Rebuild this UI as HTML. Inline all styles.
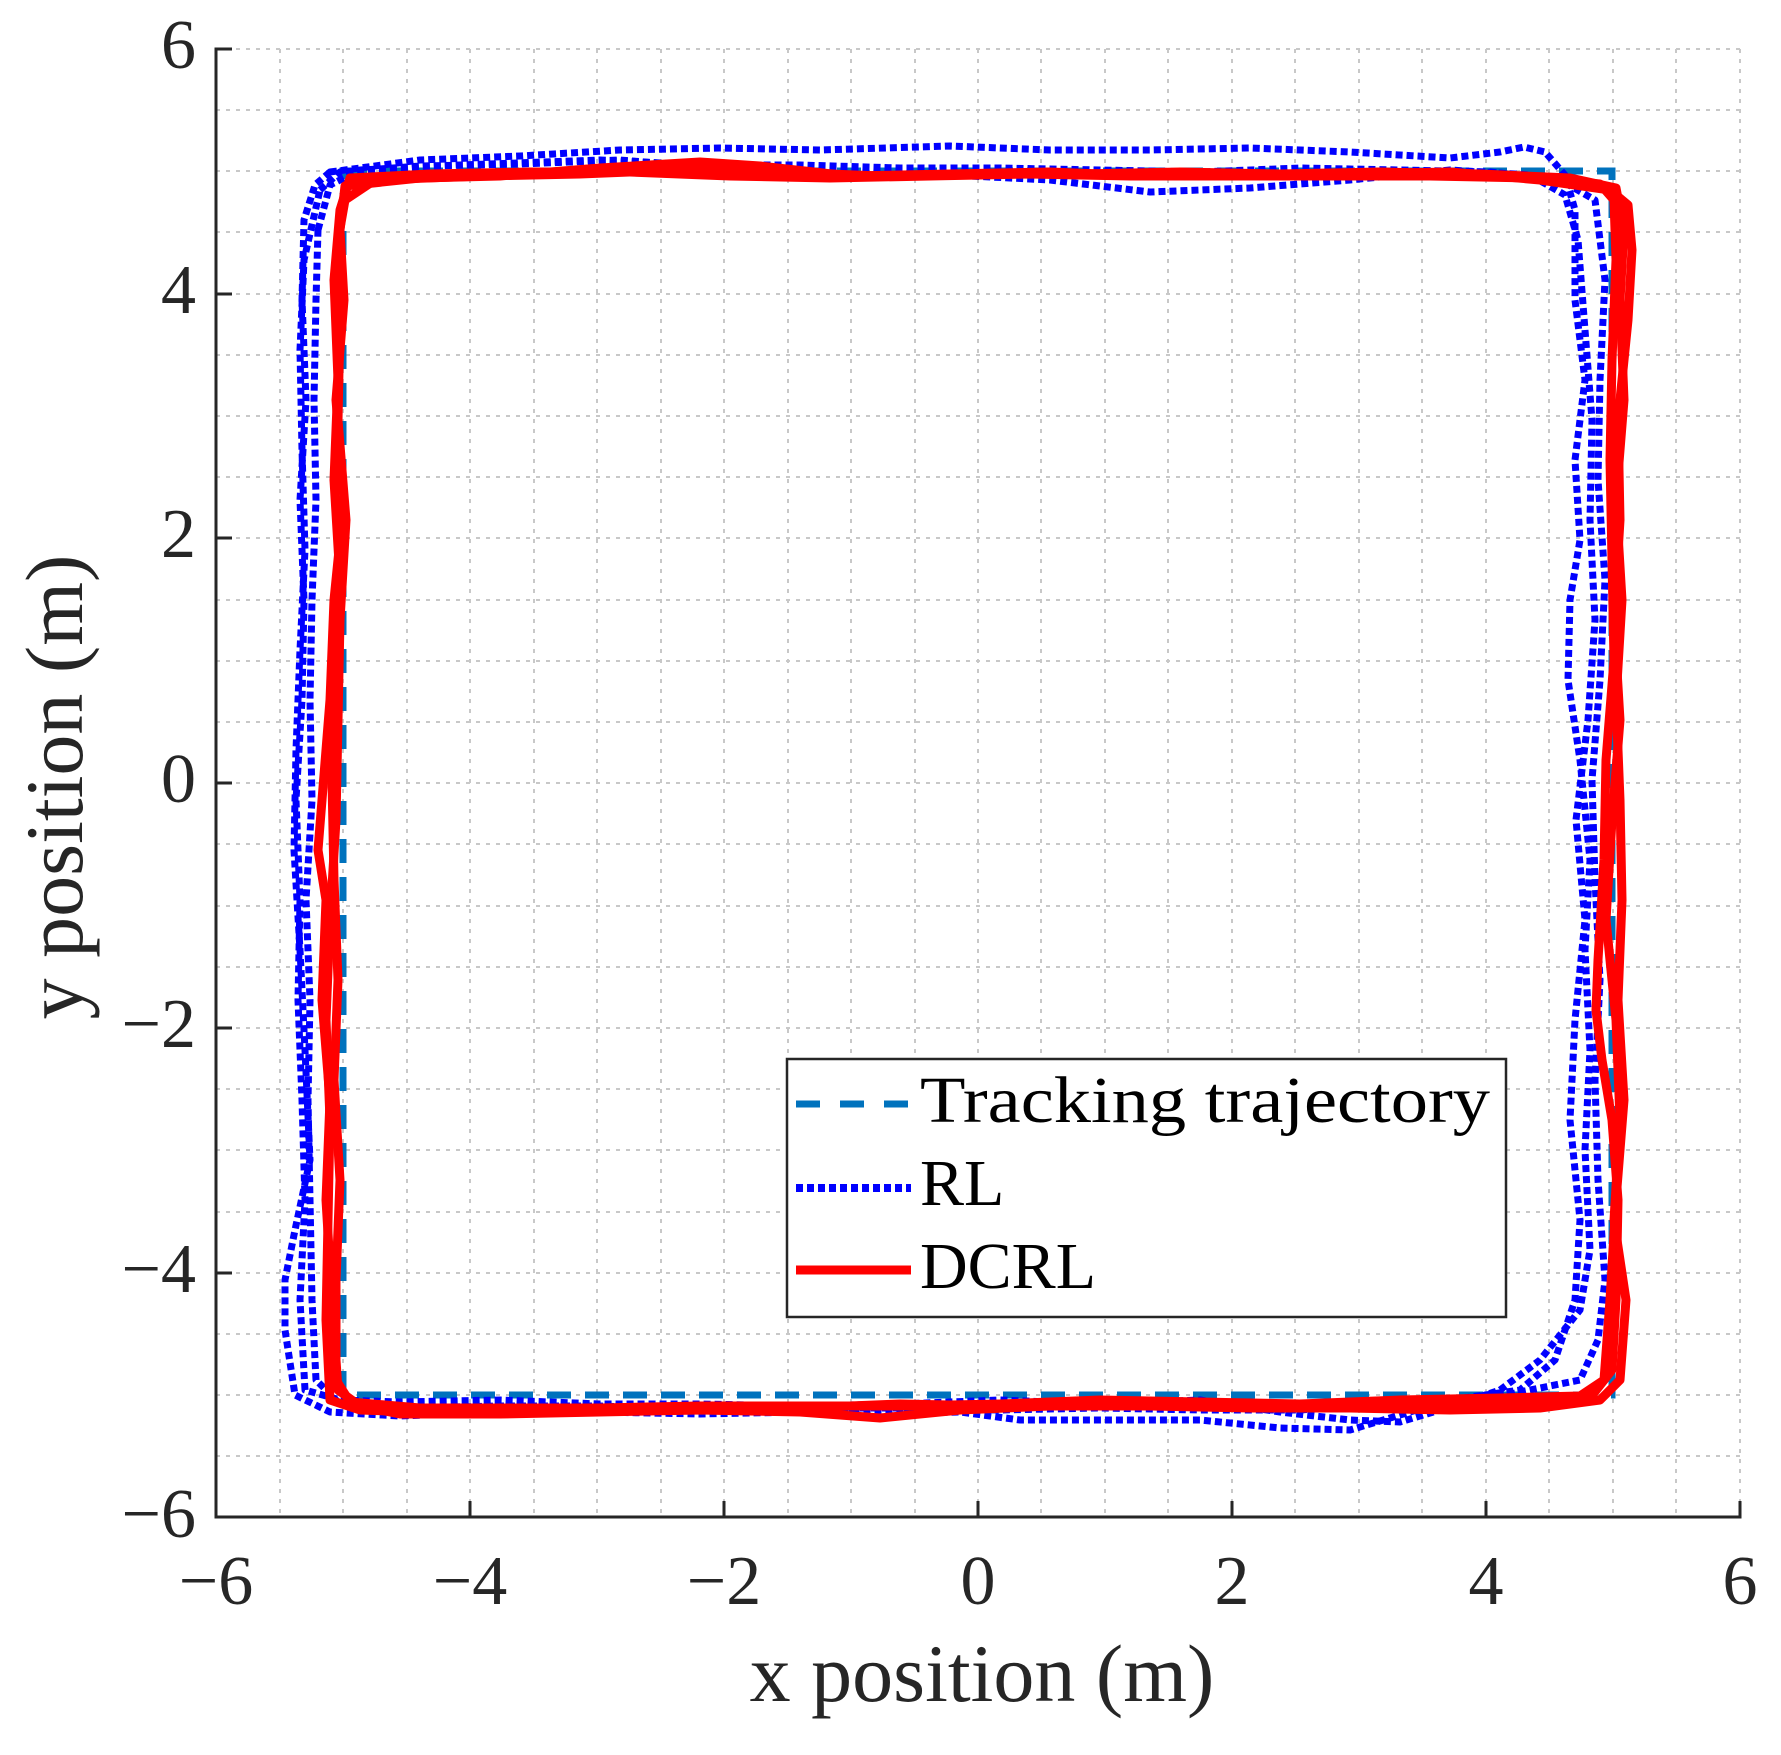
<!DOCTYPE html>
<html><head><meta charset="utf-8"><style>
html,body{margin:0;padding:0;background:#fff}
svg{display:block}
text{font-family:"Liberation Serif",serif;fill:#262626}
</style></head><body>
<svg width="1781" height="1755" viewBox="0 0 1781 1755" xmlns="http://www.w3.org/2000/svg">
<rect width="1781" height="1755" fill="#fff"/>
<g stroke="#c8c8c8" stroke-width="2" stroke-dasharray="4 6">
<path d="M280 49V1517M343 49V1517M407 49V1517M470 49V1517M534 49V1517M597 49V1517M661 49V1517M724 49V1517M788 49V1517M851 49V1517M915 49V1517M978 49V1517M1041 49V1517M1105 49V1517M1168 49V1517M1232 49V1517M1295 49V1517M1359 49V1517M1422 49V1517M1486 49V1517M1549 49V1517M1613 49V1517M1676 49V1517M1740 49V1517"/>
<path d="M216 49H1740M216 110H1740M216 171H1740M216 232H1740M216 294H1740M216 355H1740M216 416H1740M216 477H1740M216 538H1740M216 600H1740M216 661H1740M216 722H1740M216 783H1740M216 844H1740M216 906H1740M216 967H1740M216 1028H1740M216 1089H1740M216 1150H1740M216 1212H1740M216 1273H1740M216 1334H1740M216 1395H1740M216 1456H1740"/>
</g>
<g stroke="#262626" stroke-width="3" fill="none">
<path d="M232 49H216V1517H1740V1501"/>
<path d="M470 1517v-16M724 1517v-16M978 1517v-16M1232 1517v-16M1486 1517v-16M216 294h16M216 538h16M216 783h16M216 1028h16M216 1273h16"/>
</g>
<path d="M343 171H1612V1395H343Z" fill="none" stroke="#0072BD" stroke-width="7" stroke-dasharray="24 14"/>
<g fill="none" stroke="#0000ff" stroke-width="7" stroke-dasharray="7 4" stroke-linejoin="round">
<path d="M330 172 L420 160 L520 156 L620 150 L720 148 L820 150 L950 146 L1050 150 L1150 150 L1250 148 L1350 152 L1450 158 L1500 152 L1524 147 L1545 152 L1565 175 L1575 210 L1575 300 L1585 380 L1575 460 L1580 540 L1570 600 L1568 680 L1580 760 L1590 860 L1585 950 L1590 1050 L1585 1150 L1590 1250 L1580 1310 L1540 1360 L1500 1390 L1440 1410 L1400 1422 L1350 1420 L1280 1412 L1200 1400 L1100 1404 L1000 1400 L900 1404 L800 1406 L700 1404 L600 1404 L500 1400 L400 1402 L340 1400 L305 1390 L300 1300 L305 1200 L302 1100 L298 1000 L300 900 L296 800 L302 700 L304 600 L300 500 L306 400 L302 300 L304 220 L315 185 Z"/>
<path d="M320 190 L340 172 L420 166 L520 164 L620 160 L720 168 L820 172 L950 175 L1050 180 L1150 192 L1250 188 L1350 180 L1450 170 L1530 175 L1565 195 L1578 240 L1585 330 L1592 420 L1590 520 L1595 620 L1588 720 L1576 820 L1585 920 L1575 1020 L1570 1120 L1580 1220 L1575 1300 L1555 1360 L1520 1390 L1450 1400 L1400 1415 L1350 1430 L1280 1428 L1200 1420 L1100 1420 L1020 1420 L960 1412 L880 1414 L800 1412 L700 1414 L600 1412 L500 1412 L400 1416 L330 1412 L295 1395 L285 1330 L285 1280 L295 1230 L310 1160 L305 1050 L300 950 L294 850 L296 750 L300 650 L305 550 L302 450 L300 350 L304 260 Z"/>
<path d="M318 230 L330 185 L360 170 L460 165 L600 160 L700 165 L800 165 L900 168 L1000 168 L1100 170 L1200 172 L1300 168 L1400 170 L1490 172 L1560 180 L1595 200 L1605 280 L1600 380 L1598 480 L1605 580 L1600 680 L1592 780 L1595 880 L1600 980 L1595 1080 L1598 1180 L1605 1280 L1598 1340 L1580 1380 L1500 1396 L1400 1402 L1300 1410 L1200 1410 L1100 1408 L1000 1410 L900 1408 L800 1408 L700 1410 L600 1406 L500 1406 L400 1408 L340 1404 L316 1380 L312 1300 L310 1200 L308 1100 L310 1000 L306 900 L312 800 L310 700 L312 600 L316 500 L314 400 L316 300 Z"/>
</g>
<g fill="none" stroke="#ff0000" stroke-width="9" stroke-linejoin="round">
<path d="M345 186 L420 178 L500 176 L600 168 L700 162 L760 166 L850 176 L950 174 L1050 172 L1150 176 L1250 176 L1350 174 L1450 172 L1540 180 L1610 190 L1628 205 L1632 250 L1628 320 L1618 420 L1620 520 L1614 620 L1620 720 L1612 820 L1606 920 L1616 1020 L1620 1120 L1614 1220 L1626 1300 L1620 1380 L1600 1400 L1540 1408 L1450 1410 L1350 1408 L1250 1408 L1150 1406 L1050 1406 L960 1410 L880 1418 L800 1412 L700 1410 L600 1412 L500 1414 L400 1414 L360 1406 L338 1390 L332 1300 L326 1200 L330 1100 L322 1000 L326 900 L318 850 L322 800 L330 700 L334 600 L344 500 L336 400 L344 300 L340 230 Z"/>
<path d="M350 178 L430 174 L530 172 L630 172 L730 176 L830 178 L930 176 L1030 174 L1130 176 L1230 176 L1330 176 L1430 176 L1530 178 L1600 184 L1614 200 L1616 260 L1612 360 L1610 460 L1612 560 L1614 660 L1606 760 L1604 860 L1598 960 L1596 1010 L1602 1060 L1612 1120 L1618 1200 L1616 1300 L1612 1370 L1590 1398 L1500 1402 L1400 1404 L1300 1404 L1200 1402 L1100 1400 L1000 1404 L900 1406 L800 1406 L700 1406 L600 1408 L500 1408 L420 1408 L350 1402 L336 1380 L336 1280 L340 1180 L334 1080 L338 980 L334 880 L332 780 L336 680 L340 580 L334 480 L338 380 L334 280 L340 210 Z"/>
<path d="M338 240 L345 200 L375 180 L480 176 L580 174 L680 170 L780 172 L880 176 L980 174 L1080 174 L1180 172 L1280 174 L1380 172 L1480 174 L1570 178 L1616 188 L1624 230 L1620 300 L1624 400 L1616 500 L1622 600 L1616 700 L1620 800 L1622 900 L1618 1000 L1624 1100 L1616 1200 L1610 1300 L1604 1380 L1580 1396 L1500 1398 L1400 1400 L1300 1404 L1200 1404 L1100 1406 L1000 1406 L900 1404 L800 1408 L700 1408 L600 1410 L500 1410 L420 1412 L360 1410 L330 1400 L326 1320 L328 1220 L330 1120 L326 1020 L330 920 L336 820 L338 720 L340 620 L346 520 L338 420 L340 320 Z"/>
</g>
<rect x="787" y="1059" width="719" height="258" fill="#fff" stroke="#262626" stroke-width="2.5"/>
<line x1="796" y1="1104" x2="911" y2="1104" stroke="#0072BD" stroke-width="7" stroke-dasharray="24 20"/>
<line x1="796" y1="1188" x2="911" y2="1188" stroke="#0000ff" stroke-width="8" stroke-dasharray="7 4"/>
<line x1="796" y1="1270" x2="911" y2="1270" stroke="#ff0000" stroke-width="9"/>
<g style="font-size:66px">
<text x="920" y="1122" textLength="570" lengthAdjust="spacingAndGlyphs" style="fill:#000">Tracking trajectory</text>
<text x="920" y="1205" style="fill:#000">RL</text>
<text x="920" y="1288" style="fill:#000">DCRL</text>
</g>
<g style="font-size:70px" text-anchor="end">
<text x="196" y="68">6</text>
<text x="196" y="313">4</text>
<text x="196" y="557">2</text>
<text x="196" y="802">0</text>
<text x="196" y="1047">−2</text>
<text x="196" y="1292">−4</text>
<text x="196" y="1537">−6</text>
</g>
<g style="font-size:70px" text-anchor="middle">
<text x="216" y="1604">−6</text>
<text x="470" y="1604">−4</text>
<text x="724" y="1604">−2</text>
<text x="978" y="1604">0</text>
<text x="1232" y="1604">2</text>
<text x="1486" y="1604">4</text>
<text x="1740" y="1604">6</text>
</g>
<text x="982" y="1701" text-anchor="middle" style="font-size:82px">x position (m)</text>
<text transform="translate(82,787) rotate(-90)" text-anchor="middle" style="font-size:82px">y position (m)</text>
</svg>
</body></html>
